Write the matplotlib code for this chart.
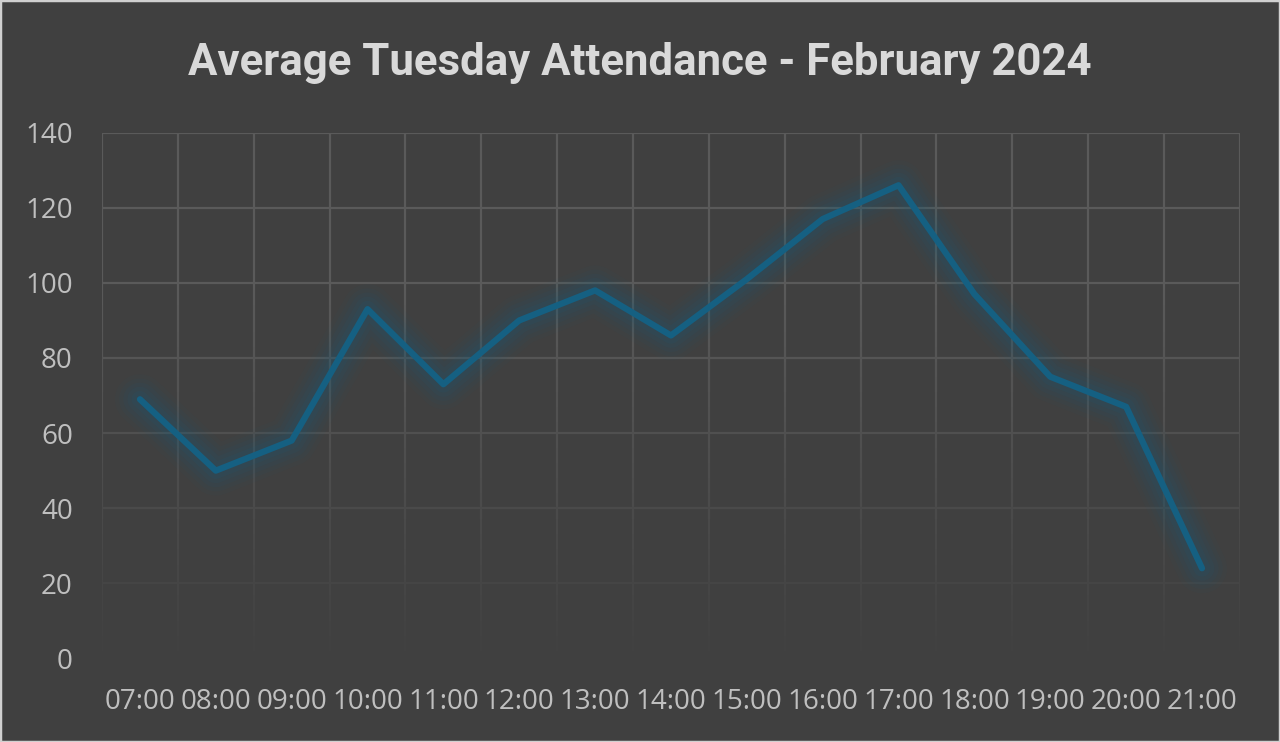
import numpy as np
import matplotlib
matplotlib.use("Agg")
import matplotlib.pyplot as plt
from matplotlib.collections import LineCollection
from matplotlib.colors import to_rgb
from matplotlib.patches import Rectangle

hours = ["07:00", "08:00", "09:00", "10:00", "11:00", "12:00", "13:00", "14:00",
         "15:00", "16:00", "17:00", "18:00", "19:00", "20:00", "21:00"]
attendance = [69, 50, 58, 93, 73, 90, 98, 86, 101, 117, 126, 97, 75, 67, 24]
yticks = [0, 20, 40, 60, 80, 100, 120, 140]

bg = "#404040"
grid_col = "#5a5a5a"
line_col = "#156082"
text_col = "#bfbfbf"

plt.rcParams['font.family'] = ['Open Sans', 'DejaVu Sans']

fig = plt.figure(figsize=(12.8, 7.42), dpi=100, facecolor=bg)
ax = fig.add_axes([0.0797, 0.1127, 0.889, 0.7085])
ax.set_facecolor(bg)

x = np.arange(len(hours))
ax.set_xlim(-0.5, len(hours) - 0.5)
ax.set_ylim(0, 140)

# gridlines that fade out toward the bottom
c_top = np.array(to_rgb(grid_col))
c_bot = np.array(to_rgb(bg))

def fade(y):
    t = np.clip(y / 100.0, 0, 1)
    return c_bot + (c_top - c_bot) * t

segs, cols = [], []
ys = np.linspace(0, 140, 141)
for xb in np.arange(-0.5, len(hours), 1.0):
    for y0, y1 in zip(ys[:-1], ys[1:]):
        segs.append([(xb, y0), (xb, y1)])
        cols.append(fade((y0 + y1) / 2))
for yv in yticks[1:]:
    segs.append([(-0.5, yv), (len(hours) - 0.5, yv)])
    cols.append(fade(yv))
ax.add_collection(LineCollection(segs, colors=cols, linewidths=1.6, zorder=1,
                                 capstyle='butt'))

# glow
for w, a in [(36, 0.04), (30, 0.05), (24, 0.065), (18, 0.08), (12, 0.1)]:
    ax.plot(x, attendance, color=line_col, lw=w, alpha=a, zorder=2,
            solid_capstyle='round', solid_joinstyle='round')
ax.plot(x, attendance, color=line_col, lw=4.5, zorder=3,
        solid_capstyle='round', solid_joinstyle='round')

ax.set_xticks(x)
ax.set_xticklabels(hours)
ax.set_yticks(yticks)
ax.tick_params(axis='both', length=0, labelsize=20, colors=text_col)
ax.tick_params(axis='y', pad=21)
ax.tick_params(axis='x', pad=21)
for s in ax.spines.values():
    s.set_visible(False)

fig.text(0.5, 0.915, "Average Tuesday Attendance - February 2024",
         ha='center', va='center', fontsize=31.5, fontweight='bold',
         color="#d9d9d9", family=['Roboto', 'DejaVu Sans'])

fig.patches.append(Rectangle((0, 0), 1, 1, transform=fig.transFigure,
                             fill=False, edgecolor="#d0d0d0", lw=2.5))

fig.savefig("out.png", dpi=100, facecolor=bg)
